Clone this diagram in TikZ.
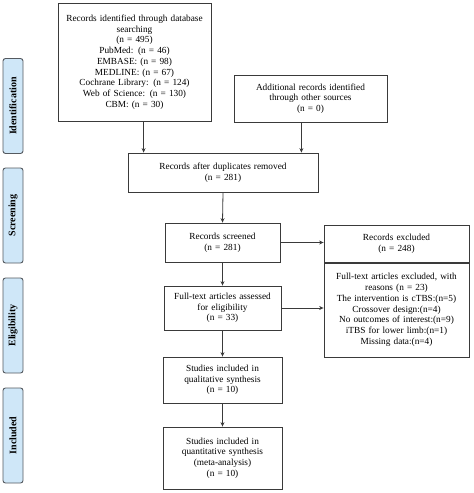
\documentclass[tikz,border=0pt]{standalone}
\usepackage{fontspec}
\setmainfont{Liberation Serif}
\usetikzlibrary{arrows.meta,calc}
\definecolor{boxline}{HTML}{3A3A3A}
\definecolor{sidefill}{HTML}{CFE7F8}
\definecolor{sideline}{HTML}{555A60}
\begin{document}
\begin{tikzpicture}[x=1pt,y=-1pt,
  box/.style={draw=boxline,line width=0.8pt,fill=white,rectangle,inner sep=0pt,align=center,
    font=\fontsize{9.3}{10.75}\selectfont},
  side/.style={draw=sideline,line width=0.9pt,fill=sidefill,rounded corners=2.5pt,
    minimum width=20pt,minimum height=95pt,inner sep=0pt},
  sidetext/.style={rotate=90,font=\bfseries\fontsize{10}{12}\selectfont},
  arr/.style={draw=boxline,line width=0.8pt,-{Stealth[length=4.5pt,width=4pt]}}]
\useasboundingbox (0,0) rectangle (474,493);
% side labels
\node[side] (sid) at (13,106) {};
\node[sidetext] (sidt) at (sid.center) {Identification};
\node[side] (sscr) at (13,215.5) {};
\node[sidetext] (sscrt) at (sscr.center) {Screening};
\node[side] (self) at (13,325.5) {};
\node[sidetext] (selft) at (self.center) {Eligibility};
\node[side] (sinc) at (13,435.5) {};
\node[sidetext] (sinct) at (sinc.center) {Included};
% boxes
\node[box,minimum width=153pt,minimum height=118pt,text width=150pt] (db) at (134.5,62)
 {Records identified through database\\ searching\\ (n = 495)\\ PubMed: (n = 46)\\ EMBASE: (n = 98)\\ MEDLINE: (n = 67)\\ Cochrane Library: (n = 124)\\ Web of Science: (n = 130)\\ CBM: (n = 30)};
\node[box,minimum width=153pt,minimum height=47pt,text width=150pt] (other) at (310.5,98.5)
 {Additional records identified\\ through other sources\\ (n = 0)};
\node[box,minimum width=190pt,minimum height=39pt,text width=186pt] (dup) at (223,172.5)
 {Records after duplicates removed\\ (n = 281)};
\node[box,minimum width=115pt,minimum height=39pt,text width=112pt] (scr) at (222.5,242.5)
 {Records screened\\ (n = 281)};
\node[box,minimum width=145pt,minimum height=37pt,text width=142pt] (exc) at (396.5,243.5)
 {Records excluded\\ (n = 248)};
\node[box,minimum width=117pt,minimum height=44pt,text width=114pt] (full) at (222.5,308)
 {Full-text articles assessed\\ for eligibility\\ (n = 33)};
\node[box,minimum width=145pt,minimum height=94pt,text width=142pt] (fexc) at (396.5,310)
 {Full-text articles excluded, with\\ reasons (n = 23)\\ The intervention is cTBS:(n=5)\\ Crossover design:(n=4)\\ No outcomes of interest:(n=9)\\ iTBS for lower limb:(n=1)\\ Missing data:(n=4)};
\node[box,minimum width=119pt,minimum height=46pt,text width=116pt] (qual) at (222.5,380)
 {Studies included in\\ qualitative synthesis\\ (n = 10)};
\node[box,minimum width=119pt,minimum height=62pt,text width=116pt] (quan) at (222.5,458)
 {Studies included in\\ quantitative synthesis\\ (meta-analysis)\\ (n = 10)};
% arrows
\coordinate (dl) at ([xshift=16pt]dup.north west);
\coordinate (dr) at ([xshift=-17pt]dup.north east);
\draw[arr] (dl |- db.south) -- (dl);
\draw[arr] (dr |- other.south) -- (dr);
\draw[arr] (dup.south) -- (scr.north);
\draw[arr] (scr.east) -- (scr.east -| exc.west);
\draw[arr] (scr.south) -- (full.north);
\draw[arr] (full.east) -- (full.east -| fexc.west);
\draw[arr] (full.south) -- (qual.north);
\draw[arr] (qual.south) -- (quan.north);
\end{tikzpicture}
\end{document}
